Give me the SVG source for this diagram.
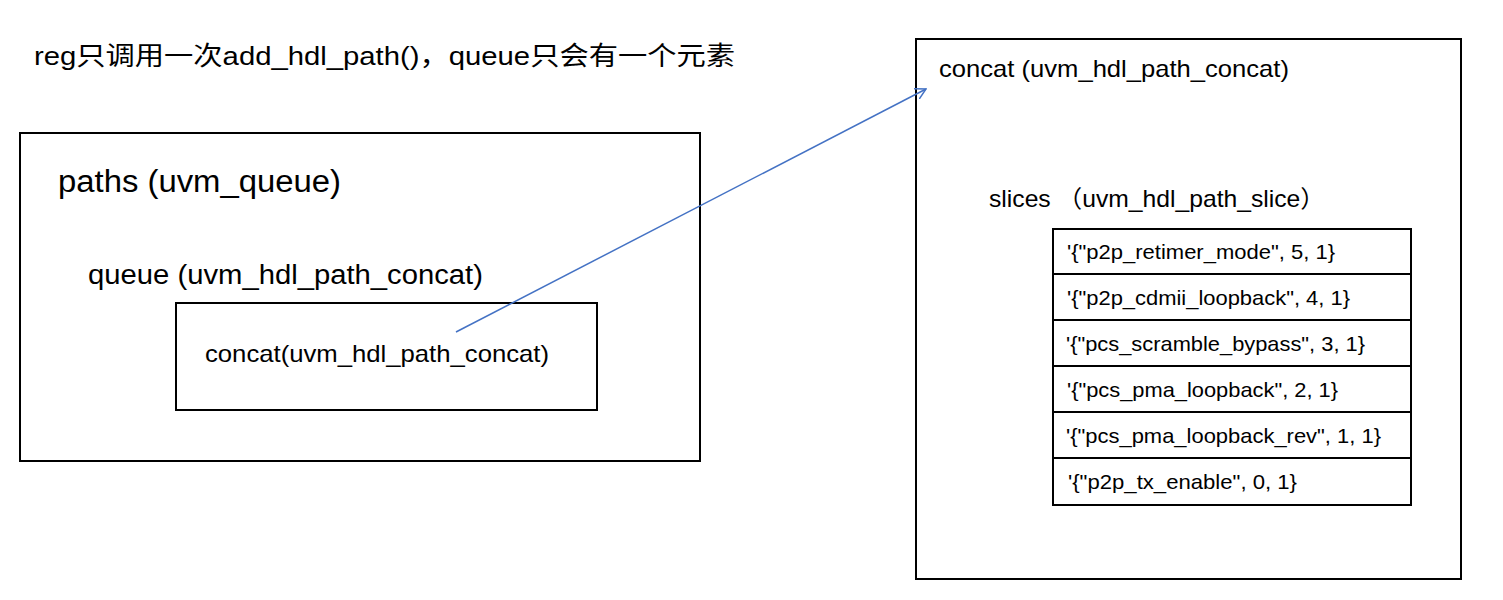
<svg xmlns="http://www.w3.org/2000/svg" width="1503" height="600" viewBox="0 0 1503 600">
<style>
rect{fill:none;stroke:#000;stroke-width:2}
text{font-family:"Liberation Sans","Noto Sans CJK SC",sans-serif;fill:#000}
.r{font-size:21px}
</style>
<defs><marker id="a" viewBox="0 0 12 12" refX="11" refY="6" markerWidth="12" markerHeight="12" markerUnits="userSpaceOnUse" orient="auto"><path d="M0,0 L11,6 L0,12" fill="none" stroke="#4472C4" stroke-width="1.5"/></marker></defs>
<rect width="1503" height="600" style="fill:#fff;stroke:none"/>
<text x="34" y="65" font-size="26" textLength="701" lengthAdjust="spacingAndGlyphs">reg只调用一次add_hdl_path()，queue只会有一个元素</text>
<g id="paths"><rect x="20" y="133" width="680" height="328"/><text x="58" y="192" font-size="31" textLength="283" lengthAdjust="spacingAndGlyphs">paths (uvm_queue)</text><text x="88" y="284" font-size="27" textLength="395" lengthAdjust="spacingAndGlyphs">queue (uvm_hdl_path_concat)</text></g>
<g id="inner"><rect x="176" y="303" width="421" height="107"/><text x="205" y="362" font-size="24" textLength="344" lengthAdjust="spacingAndGlyphs">concat(uvm_hdl_path_concat)</text></g>
<g id="concat"><rect x="916" y="39" width="545" height="540"/><text x="939" y="77" font-size="24" textLength="350" lengthAdjust="spacingAndGlyphs">concat (uvm_hdl_path_concat)</text><text x="989" y="207" font-size="24" textLength="336" lengthAdjust="spacingAndGlyphs">slices （uvm_hdl_path_slice）</text></g>
<g id="slices">
<rect x="1053" y="229" width="358" height="276"/>
<path d="M1053 274H1411M1053 320H1411M1053 366H1411M1053 412H1411M1053 458H1411" stroke="#000" stroke-width="2"/>
<text class="r" x="1067" y="259" textLength="268" lengthAdjust="spacingAndGlyphs">'{"p2p_retimer_mode", 5, 1}</text>
<text class="r" x="1067" y="305" textLength="283" lengthAdjust="spacingAndGlyphs">'{"p2p_cdmii_loopback", 4, 1}</text>
<text class="r" x="1066" y="351" textLength="299" lengthAdjust="spacingAndGlyphs">'{"pcs_scramble_bypass", 3, 1}</text>
<text class="r" x="1067" y="397" textLength="271" lengthAdjust="spacingAndGlyphs">'{"pcs_pma_loopback", 2, 1}</text>
<text class="r" x="1066" y="443" textLength="315" lengthAdjust="spacingAndGlyphs">'{"pcs_pma_loopback_rev", 1, 1}</text>
<text class="r" x="1068" y="489" textLength="229" lengthAdjust="spacingAndGlyphs">'{"p2p_tx_enable", 0, 1}</text>
</g>
<g id="connectors"><line x1="456" y1="332" x2="926" y2="89" stroke="#4472C4" stroke-width="1.5" marker-end="url(#a)"/></g>
</svg>
